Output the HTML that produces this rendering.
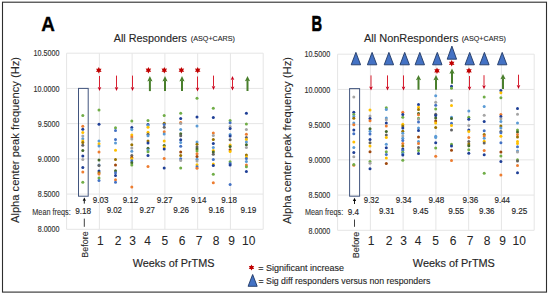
<!DOCTYPE html>
<html><head><meta charset="utf-8"><style>
html,body{margin:0;padding:0;background:#fff;}
svg{display:block;}
text{font-family:"Liberation Sans",sans-serif;}
</style></head><body>
<svg width="550" height="295" viewBox="0 0 550 295">
<rect x="0" y="0" width="550" height="295" fill="#fff"/>

<rect x="2.5" y="2.2" width="544.0" height="289.9" fill="none" stroke="#2E2E2E" stroke-width="1.1"/>
<line x1="66.6" y1="53.20" x2="263.2" y2="53.20" stroke="#E5E5E5" stroke-width="1"/>
<line x1="66.6" y1="88.42" x2="263.2" y2="88.42" stroke="#E5E5E5" stroke-width="1"/>
<line x1="66.6" y1="123.64" x2="263.2" y2="123.64" stroke="#E5E5E5" stroke-width="1"/>
<line x1="66.6" y1="158.86" x2="263.2" y2="158.86" stroke="#E5E5E5" stroke-width="1"/>
<line x1="66.6" y1="194.08" x2="263.2" y2="194.08" stroke="#E5E5E5" stroke-width="1"/>
<line x1="66.6" y1="229.30" x2="263.2" y2="229.30" stroke="#E5E5E5" stroke-width="1"/>
<line x1="66.60" y1="53.2" x2="66.60" y2="229.3" stroke="#E5E5E5" stroke-width="1"/>
<line x1="99.37" y1="53.2" x2="99.37" y2="229.3" stroke="#E5E5E5" stroke-width="1"/>
<line x1="132.13" y1="53.2" x2="132.13" y2="229.3" stroke="#E5E5E5" stroke-width="1"/>
<line x1="164.90" y1="53.2" x2="164.90" y2="229.3" stroke="#E5E5E5" stroke-width="1"/>
<line x1="197.67" y1="53.2" x2="197.67" y2="229.3" stroke="#E5E5E5" stroke-width="1"/>
<line x1="230.43" y1="53.2" x2="230.43" y2="229.3" stroke="#E5E5E5" stroke-width="1"/>
<line x1="263.20" y1="53.2" x2="263.20" y2="229.3" stroke="#E5E5E5" stroke-width="1"/>
<line x1="337.6" y1="54.20" x2="534.2" y2="54.20" stroke="#E5E5E5" stroke-width="1"/>
<line x1="337.6" y1="89.42" x2="534.2" y2="89.42" stroke="#E5E5E5" stroke-width="1"/>
<line x1="337.6" y1="124.64" x2="534.2" y2="124.64" stroke="#E5E5E5" stroke-width="1"/>
<line x1="337.6" y1="159.86" x2="534.2" y2="159.86" stroke="#E5E5E5" stroke-width="1"/>
<line x1="337.6" y1="195.08" x2="534.2" y2="195.08" stroke="#E5E5E5" stroke-width="1"/>
<line x1="337.6" y1="230.30" x2="534.2" y2="230.30" stroke="#E5E5E5" stroke-width="1"/>
<line x1="337.60" y1="54.2" x2="337.60" y2="230.3" stroke="#E5E5E5" stroke-width="1"/>
<line x1="370.37" y1="54.2" x2="370.37" y2="230.3" stroke="#E5E5E5" stroke-width="1"/>
<line x1="403.13" y1="54.2" x2="403.13" y2="230.3" stroke="#E5E5E5" stroke-width="1"/>
<line x1="435.90" y1="54.2" x2="435.90" y2="230.3" stroke="#E5E5E5" stroke-width="1"/>
<line x1="468.67" y1="54.2" x2="468.67" y2="230.3" stroke="#E5E5E5" stroke-width="1"/>
<line x1="501.43" y1="54.2" x2="501.43" y2="230.3" stroke="#E5E5E5" stroke-width="1"/>
<line x1="534.20" y1="54.2" x2="534.20" y2="230.3" stroke="#E5E5E5" stroke-width="1"/>
<rect x="78.5" y="88.4" width="9.7" height="107.8" fill="none" stroke="#42557E" stroke-width="1.0"/>
<rect x="349.6" y="88.6" width="10.0" height="107.6" fill="none" stroke="#42557E" stroke-width="1.0"/>
<circle cx="82.8" cy="115.6" r="1.5" fill="#70AD47"/>
<circle cx="82.8" cy="126.2" r="1.5" fill="#ED7D31"/>
<circle cx="82.8" cy="129.3" r="1.5" fill="#1F3F96"/>
<circle cx="82.8" cy="132.4" r="1.5" fill="#FFC000"/>
<circle cx="82.8" cy="136" r="1.5" fill="#A5A5A5"/>
<circle cx="82.8" cy="138.8" r="1.5" fill="#5B9BD5"/>
<circle cx="82.8" cy="141.1" r="1.5" fill="#FFC000"/>
<circle cx="82.8" cy="142.5" r="1.5" fill="#997300"/>
<circle cx="82.8" cy="145.2" r="1.5" fill="#636363"/>
<circle cx="82.8" cy="150.6" r="1.5" fill="#43682B"/>
<circle cx="82.8" cy="156" r="1.5" fill="#1F3F96"/>
<circle cx="82.8" cy="159.4" r="1.5" fill="#A5A5A5"/>
<circle cx="82.8" cy="167.6" r="1.5" fill="#1F3F96"/>
<circle cx="82.8" cy="172" r="1.5" fill="#ED7D31"/>
<circle cx="82.8" cy="182.2" r="1.5" fill="#70AD47"/>
<circle cx="99.0" cy="109.9" r="1.5" fill="#70AD47"/>
<circle cx="99.0" cy="124.2" r="1.5" fill="#1F3F96"/>
<circle cx="99.0" cy="141.1" r="1.5" fill="#5B9BD5"/>
<circle cx="99.0" cy="143.8" r="1.5" fill="#FFC000"/>
<circle cx="99.0" cy="145.9" r="1.5" fill="#5B9BD5"/>
<circle cx="99.0" cy="152" r="1.5" fill="#ED7D31"/>
<circle cx="99.0" cy="160.1" r="1.5" fill="#43682B"/>
<circle cx="99.0" cy="164.9" r="1.5" fill="#5B9BD5"/>
<circle cx="99.0" cy="165.5" r="1.5" fill="#636363"/>
<circle cx="99.0" cy="171" r="1.5" fill="#1F3F96"/>
<circle cx="99.0" cy="172.7" r="1.5" fill="#997300"/>
<circle cx="99.0" cy="174" r="1.5" fill="#ED7D31"/>
<circle cx="99.0" cy="178.1" r="1.5" fill="#70AD47"/>
<circle cx="99.0" cy="180.6" r="1.5" fill="#4472C4"/>
<circle cx="115.5" cy="127.8" r="1.5" fill="#70AD47"/>
<circle cx="115.5" cy="130.5" r="1.5" fill="#4472C4"/>
<circle cx="115.5" cy="139.6" r="1.5" fill="#4472C4"/>
<circle cx="115.5" cy="143.1" r="1.5" fill="#5B9BD5"/>
<circle cx="115.5" cy="150.2" r="1.5" fill="#FFC000"/>
<circle cx="115.5" cy="159.4" r="1.5" fill="#997300"/>
<circle cx="115.5" cy="165.1" r="1.5" fill="#9E480E"/>
<circle cx="115.5" cy="170.8" r="1.5" fill="#43682B"/>
<circle cx="115.5" cy="172.7" r="1.5" fill="#4472C4"/>
<circle cx="115.5" cy="175.4" r="1.5" fill="#1F3F96"/>
<circle cx="115.5" cy="179.8" r="1.5" fill="#ED7D31"/>
<circle cx="115.5" cy="182.2" r="1.5" fill="#4472C4"/>
<circle cx="131.8" cy="121" r="1.5" fill="#70AD47"/>
<circle cx="131.8" cy="127.5" r="1.5" fill="#1F3F96"/>
<circle cx="131.8" cy="129.5" r="1.5" fill="#5B9BD5"/>
<circle cx="131.8" cy="135" r="1.5" fill="#FFC000"/>
<circle cx="131.8" cy="137" r="1.5" fill="#ED7D31"/>
<circle cx="131.8" cy="139" r="1.5" fill="#A5A5A5"/>
<circle cx="131.8" cy="144.8" r="1.5" fill="#997300"/>
<circle cx="131.8" cy="147.9" r="1.5" fill="#A5A5A5"/>
<circle cx="131.8" cy="151.3" r="1.5" fill="#5B9BD5"/>
<circle cx="131.8" cy="155.6" r="1.5" fill="#636363"/>
<circle cx="131.8" cy="157.4" r="1.5" fill="#9E480E"/>
<circle cx="131.8" cy="158.7" r="1.5" fill="#FFC000"/>
<circle cx="131.8" cy="160.8" r="1.5" fill="#4472C4"/>
<circle cx="131.8" cy="162.8" r="1.5" fill="#43682B"/>
<circle cx="131.8" cy="164.9" r="1.5" fill="#70AD47"/>
<circle cx="131.8" cy="187" r="1.5" fill="#ED7D31"/>
<circle cx="148.0" cy="120.4" r="1.5" fill="#70AD47"/>
<circle cx="148.0" cy="124.6" r="1.5" fill="#1F3F96"/>
<circle cx="148.0" cy="125.5" r="1.5" fill="#5B9BD5"/>
<circle cx="148.0" cy="127.3" r="1.5" fill="#FFC000"/>
<circle cx="148.0" cy="132.3" r="1.5" fill="#FFC000"/>
<circle cx="148.0" cy="134.3" r="1.5" fill="#636363"/>
<circle cx="148.0" cy="135.7" r="1.5" fill="#5B9BD5"/>
<circle cx="148.0" cy="140.9" r="1.5" fill="#997300"/>
<circle cx="148.0" cy="142.9" r="1.5" fill="#1F3F96"/>
<circle cx="148.0" cy="148.3" r="1.5" fill="#43682B"/>
<circle cx="148.0" cy="150.1" r="1.5" fill="#5B9BD5"/>
<circle cx="148.0" cy="151.7" r="1.5" fill="#70AD47"/>
<circle cx="148.0" cy="155.5" r="1.5" fill="#1F3F96"/>
<circle cx="148.0" cy="166.5" r="1.5" fill="#ED7D31"/>
<circle cx="164.2" cy="115.6" r="1.5" fill="#70AD47"/>
<circle cx="164.2" cy="123.2" r="1.5" fill="#997300"/>
<circle cx="164.2" cy="124.6" r="1.5" fill="#4472C4"/>
<circle cx="164.2" cy="127.3" r="1.5" fill="#636363"/>
<circle cx="164.2" cy="131.8" r="1.5" fill="#ED7D31"/>
<circle cx="164.2" cy="134" r="1.5" fill="#5B9BD5"/>
<circle cx="164.2" cy="140.9" r="1.5" fill="#FFC000"/>
<circle cx="164.2" cy="145.6" r="1.5" fill="#43682B"/>
<circle cx="164.2" cy="147" r="1.5" fill="#FFC000"/>
<circle cx="164.2" cy="149" r="1.5" fill="#1F3F96"/>
<circle cx="164.2" cy="158.5" r="1.5" fill="#ED7D31"/>
<circle cx="164.2" cy="168" r="1.5" fill="#1F3F96"/>
<circle cx="180.7" cy="113.3" r="1.5" fill="#70AD47"/>
<circle cx="180.7" cy="118.5" r="1.5" fill="#1F3F96"/>
<circle cx="180.7" cy="122.5" r="1.5" fill="#ED7D31"/>
<circle cx="180.7" cy="123.5" r="1.5" fill="#A5A5A5"/>
<circle cx="180.7" cy="129.4" r="1.5" fill="#5B9BD5"/>
<circle cx="180.7" cy="133.8" r="1.5" fill="#43682B"/>
<circle cx="180.7" cy="135.7" r="1.5" fill="#636363"/>
<circle cx="180.7" cy="139.8" r="1.5" fill="#1F3F96"/>
<circle cx="180.7" cy="142.5" r="1.5" fill="#5B9BD5"/>
<circle cx="180.7" cy="146.3" r="1.5" fill="#4472C4"/>
<circle cx="180.7" cy="152" r="1.5" fill="#9E480E"/>
<circle cx="180.7" cy="155.5" r="1.5" fill="#997300"/>
<circle cx="180.7" cy="158.8" r="1.5" fill="#4472C4"/>
<circle cx="180.7" cy="160.5" r="1.5" fill="#A5A5A5"/>
<circle cx="180.7" cy="168" r="1.5" fill="#70AD47"/>
<circle cx="197.0" cy="98.2" r="1.5" fill="#70AD47"/>
<circle cx="197.0" cy="117.1" r="1.5" fill="#1F3F96"/>
<circle cx="197.0" cy="125.9" r="1.5" fill="#5B9BD5"/>
<circle cx="197.0" cy="141.9" r="1.5" fill="#5B9BD5"/>
<circle cx="197.0" cy="144.2" r="1.5" fill="#997300"/>
<circle cx="197.0" cy="147" r="1.5" fill="#636363"/>
<circle cx="197.0" cy="149" r="1.5" fill="#43682B"/>
<circle cx="197.0" cy="151" r="1.5" fill="#70AD47"/>
<circle cx="197.0" cy="153.7" r="1.5" fill="#ED7D31"/>
<circle cx="197.0" cy="156.5" r="1.5" fill="#9E480E"/>
<circle cx="197.0" cy="159.2" r="1.5" fill="#5B9BD5"/>
<circle cx="197.0" cy="160.9" r="1.5" fill="#A5A5A5"/>
<circle cx="197.0" cy="164.8" r="1.5" fill="#FFC000"/>
<circle cx="197.0" cy="166.8" r="1.5" fill="#4472C4"/>
<circle cx="197.0" cy="168.3" r="1.5" fill="#ED7D31"/>
<circle cx="213.3" cy="108.3" r="1.5" fill="#70AD47"/>
<circle cx="213.3" cy="117.4" r="1.5" fill="#1F3F96"/>
<circle cx="213.3" cy="132.9" r="1.5" fill="#ED7D31"/>
<circle cx="213.3" cy="135.4" r="1.5" fill="#A5A5A5"/>
<circle cx="213.3" cy="139.5" r="1.5" fill="#997300"/>
<circle cx="213.3" cy="143.6" r="1.5" fill="#1F3F96"/>
<circle cx="213.3" cy="147.6" r="1.5" fill="#5B9BD5"/>
<circle cx="213.3" cy="150.4" r="1.5" fill="#FFC000"/>
<circle cx="213.3" cy="152" r="1.5" fill="#43682B"/>
<circle cx="213.3" cy="154.2" r="1.5" fill="#636363"/>
<circle cx="213.3" cy="159.6" r="1.5" fill="#4472C4"/>
<circle cx="213.3" cy="164.1" r="1.5" fill="#FFC000"/>
<circle cx="213.3" cy="165.4" r="1.5" fill="#1F3F96"/>
<circle cx="213.3" cy="174.2" r="1.5" fill="#70AD47"/>
<circle cx="213.3" cy="182.8" r="1.5" fill="#ED7D31"/>
<circle cx="230.1" cy="120.5" r="1.5" fill="#70AD47"/>
<circle cx="230.1" cy="122.8" r="1.5" fill="#4472C4"/>
<circle cx="230.1" cy="126.5" r="1.5" fill="#A5A5A5"/>
<circle cx="230.1" cy="128.6" r="1.5" fill="#1F3F96"/>
<circle cx="230.1" cy="134.6" r="1.5" fill="#5B9BD5"/>
<circle cx="230.1" cy="136.1" r="1.5" fill="#1F3F96"/>
<circle cx="230.1" cy="139.8" r="1.5" fill="#636363"/>
<circle cx="230.1" cy="144.9" r="1.5" fill="#FFC000"/>
<circle cx="230.1" cy="146.6" r="1.5" fill="#43682B"/>
<circle cx="230.1" cy="149.7" r="1.5" fill="#9E480E"/>
<circle cx="230.1" cy="151.4" r="1.5" fill="#FFC000"/>
<circle cx="230.1" cy="161.7" r="1.5" fill="#70AD47"/>
<circle cx="230.1" cy="163.5" r="1.5" fill="#4472C4"/>
<circle cx="230.1" cy="165" r="1.5" fill="#1F3F96"/>
<circle cx="230.1" cy="184.4" r="1.5" fill="#4472C4"/>
<circle cx="246.4" cy="113.3" r="1.5" fill="#1F3F96"/>
<circle cx="246.4" cy="123.9" r="1.5" fill="#70AD47"/>
<circle cx="246.4" cy="129.6" r="1.5" fill="#A5A5A5"/>
<circle cx="246.4" cy="134.3" r="1.5" fill="#ED7D31"/>
<circle cx="246.4" cy="137.5" r="1.5" fill="#636363"/>
<circle cx="246.4" cy="139.5" r="1.5" fill="#FFC000"/>
<circle cx="246.4" cy="141.9" r="1.5" fill="#5B9BD5"/>
<circle cx="246.4" cy="144.7" r="1.5" fill="#43682B"/>
<circle cx="246.4" cy="147.4" r="1.5" fill="#A5A5A5"/>
<circle cx="246.4" cy="155.1" r="1.5" fill="#997300"/>
<circle cx="246.4" cy="156.9" r="1.5" fill="#FFC000"/>
<circle cx="246.4" cy="158.5" r="1.5" fill="#4472C4"/>
<circle cx="246.4" cy="161.5" r="1.5" fill="#5B9BD5"/>
<circle cx="246.4" cy="165.1" r="1.5" fill="#ED7D31"/>
<circle cx="246.4" cy="166.8" r="1.5" fill="#70AD47"/>
<circle cx="246.4" cy="171.5" r="1.5" fill="#1F3F96"/>
<circle cx="353.8" cy="97" r="1.5" fill="#A5A5A5"/>
<circle cx="353.8" cy="112.3" r="1.5" fill="#1F3F96"/>
<circle cx="353.8" cy="114.6" r="1.5" fill="#70AD47"/>
<circle cx="353.8" cy="116.6" r="1.5" fill="#5B9BD5"/>
<circle cx="353.8" cy="118.2" r="1.5" fill="#997300"/>
<circle cx="353.8" cy="122.9" r="1.5" fill="#5B9BD5"/>
<circle cx="353.8" cy="124.8" r="1.5" fill="#ED7D31"/>
<circle cx="353.8" cy="129.9" r="1.5" fill="#1F3F96"/>
<circle cx="353.8" cy="133.7" r="1.5" fill="#4472C4"/>
<circle cx="353.8" cy="142.1" r="1.5" fill="#FFC000"/>
<circle cx="353.8" cy="147.6" r="1.5" fill="#5B9BD5"/>
<circle cx="353.8" cy="152.4" r="1.5" fill="#1F3F96"/>
<circle cx="353.8" cy="156.8" r="1.5" fill="#A5A5A5"/>
<circle cx="353.8" cy="165.2" r="1.5" fill="#ED7D31"/>
<circle cx="353.8" cy="164.5" r="1.5" fill="#70AD47"/>
<circle cx="370.0" cy="110.1" r="1.5" fill="#FFC000"/>
<circle cx="370.0" cy="116" r="1.5" fill="#A5A5A5"/>
<circle cx="370.0" cy="118.5" r="1.5" fill="#1F3F96"/>
<circle cx="370.0" cy="120.7" r="1.5" fill="#ED7D31"/>
<circle cx="370.0" cy="128.8" r="1.5" fill="#43682B"/>
<circle cx="370.0" cy="131.3" r="1.5" fill="#5B9BD5"/>
<circle cx="370.0" cy="134" r="1.5" fill="#4472C4"/>
<circle cx="370.0" cy="139.4" r="1.5" fill="#1F3F96"/>
<circle cx="370.0" cy="142.8" r="1.5" fill="#636363"/>
<circle cx="370.0" cy="145.9" r="1.5" fill="#FFC000"/>
<circle cx="370.0" cy="151.8" r="1.5" fill="#9E480E"/>
<circle cx="370.0" cy="161.5" r="1.5" fill="#70AD47"/>
<circle cx="370.0" cy="163.3" r="1.5" fill="#A5A5A5"/>
<circle cx="370.0" cy="168.7" r="1.5" fill="#1F3F96"/>
<circle cx="386.3" cy="107.8" r="1.5" fill="#70AD47"/>
<circle cx="386.3" cy="109.6" r="1.5" fill="#5B9BD5"/>
<circle cx="386.3" cy="118" r="1.5" fill="#5B9BD5"/>
<circle cx="386.3" cy="119.7" r="1.5" fill="#A5A5A5"/>
<circle cx="386.3" cy="123.1" r="1.5" fill="#1F3F96"/>
<circle cx="386.3" cy="125.9" r="1.5" fill="#ED7D31"/>
<circle cx="386.3" cy="131.6" r="1.5" fill="#43682B"/>
<circle cx="386.3" cy="135.1" r="1.5" fill="#636363"/>
<circle cx="386.3" cy="137.4" r="1.5" fill="#FFC000"/>
<circle cx="386.3" cy="144.2" r="1.5" fill="#5B9BD5"/>
<circle cx="386.3" cy="147.8" r="1.5" fill="#1F3F96"/>
<circle cx="386.3" cy="151.8" r="1.5" fill="#70AD47"/>
<circle cx="386.3" cy="154.5" r="1.5" fill="#4472C4"/>
<circle cx="386.3" cy="158.1" r="1.5" fill="#FFC000"/>
<circle cx="386.3" cy="163.6" r="1.5" fill="#9E480E"/>
<circle cx="402.8" cy="112.3" r="1.5" fill="#ED7D31"/>
<circle cx="402.8" cy="114.6" r="1.5" fill="#1F3F96"/>
<circle cx="402.8" cy="117.3" r="1.5" fill="#70AD47"/>
<circle cx="402.8" cy="124.2" r="1.5" fill="#FFC000"/>
<circle cx="402.8" cy="125.9" r="1.5" fill="#997300"/>
<circle cx="402.8" cy="127.9" r="1.5" fill="#1F3F96"/>
<circle cx="402.8" cy="131.3" r="1.5" fill="#997300"/>
<circle cx="402.8" cy="133.3" r="1.5" fill="#5B9BD5"/>
<circle cx="402.8" cy="136" r="1.5" fill="#A5A5A5"/>
<circle cx="402.8" cy="138.3" r="1.5" fill="#5B9BD5"/>
<circle cx="402.8" cy="140.5" r="1.5" fill="#4472C4"/>
<circle cx="402.8" cy="143.5" r="1.5" fill="#ED7D31"/>
<circle cx="402.8" cy="145.9" r="1.5" fill="#997300"/>
<circle cx="402.8" cy="148.9" r="1.5" fill="#1F3F96"/>
<circle cx="402.8" cy="150.5" r="1.5" fill="#4472C4"/>
<circle cx="402.8" cy="152.3" r="1.5" fill="#70AD47"/>
<circle cx="402.8" cy="153.8" r="1.5" fill="#5B9BD5"/>
<circle cx="402.8" cy="155" r="1.5" fill="#1F3F96"/>
<circle cx="402.8" cy="160.2" r="1.5" fill="#70AD47"/>
<circle cx="418.5" cy="104.6" r="1.5" fill="#1F3F96"/>
<circle cx="418.5" cy="107.2" r="1.5" fill="#FFC000"/>
<circle cx="418.5" cy="109.5" r="1.5" fill="#997300"/>
<circle cx="418.5" cy="113.4" r="1.5" fill="#43682B"/>
<circle cx="418.5" cy="114.8" r="1.5" fill="#ED7D31"/>
<circle cx="418.5" cy="118.3" r="1.5" fill="#70AD47"/>
<circle cx="418.5" cy="119.2" r="1.5" fill="#A5A5A5"/>
<circle cx="418.5" cy="122" r="1.5" fill="#4472C4"/>
<circle cx="418.5" cy="128.1" r="1.5" fill="#5B9BD5"/>
<circle cx="418.5" cy="130.5" r="1.5" fill="#1F3F96"/>
<circle cx="418.5" cy="136.9" r="1.5" fill="#9E480E"/>
<circle cx="418.5" cy="141.5" r="1.5" fill="#5B9BD5"/>
<circle cx="418.5" cy="143.5" r="1.5" fill="#ED7D31"/>
<circle cx="418.5" cy="147.5" r="1.5" fill="#636363"/>
<circle cx="418.5" cy="150.6" r="1.5" fill="#70AD47"/>
<circle cx="418.5" cy="153.6" r="1.5" fill="#1F3F96"/>
<circle cx="435.7" cy="95.8" r="1.5" fill="#5B9BD5"/>
<circle cx="435.7" cy="102.3" r="1.5" fill="#A5A5A5"/>
<circle cx="435.7" cy="105.3" r="1.5" fill="#4472C4"/>
<circle cx="435.7" cy="109" r="1.5" fill="#70AD47"/>
<circle cx="435.7" cy="114.2" r="1.5" fill="#636363"/>
<circle cx="435.7" cy="115.6" r="1.5" fill="#1F3F96"/>
<circle cx="435.7" cy="117.9" r="1.5" fill="#43682B"/>
<circle cx="435.7" cy="121" r="1.5" fill="#9E480E"/>
<circle cx="435.7" cy="122.9" r="1.5" fill="#FFC000"/>
<circle cx="435.7" cy="127.4" r="1.5" fill="#997300"/>
<circle cx="435.7" cy="136.2" r="1.5" fill="#5B9BD5"/>
<circle cx="435.7" cy="137.6" r="1.5" fill="#5B9BD5"/>
<circle cx="435.7" cy="142.8" r="1.5" fill="#1F3F96"/>
<circle cx="435.7" cy="148.1" r="1.5" fill="#70AD47"/>
<circle cx="435.7" cy="156.3" r="1.5" fill="#ED7D31"/>
<circle cx="451.5" cy="86.3" r="1.5" fill="#1F3F96"/>
<circle cx="451.5" cy="88.3" r="1.5" fill="#70AD47"/>
<circle cx="451.5" cy="100.5" r="1.5" fill="#A5A5A5"/>
<circle cx="451.5" cy="105.6" r="1.5" fill="#FFC000"/>
<circle cx="451.5" cy="117.2" r="1.5" fill="#5B9BD5"/>
<circle cx="451.5" cy="118.6" r="1.5" fill="#43682B"/>
<circle cx="451.5" cy="123.3" r="1.5" fill="#4472C4"/>
<circle cx="451.5" cy="125.4" r="1.5" fill="#FFC000"/>
<circle cx="451.5" cy="130.1" r="1.5" fill="#636363"/>
<circle cx="451.5" cy="144.3" r="1.5" fill="#70AD47"/>
<circle cx="451.5" cy="146.1" r="1.5" fill="#1F3F96"/>
<circle cx="451.5" cy="150.2" r="1.5" fill="#9E480E"/>
<circle cx="451.5" cy="160.4" r="1.5" fill="#ED7D31"/>
<circle cx="468.8" cy="111.1" r="1.5" fill="#5B9BD5"/>
<circle cx="468.8" cy="117.2" r="1.5" fill="#70AD47"/>
<circle cx="468.8" cy="119.2" r="1.5" fill="#1F3F96"/>
<circle cx="468.8" cy="125.4" r="1.5" fill="#A5A5A5"/>
<circle cx="468.8" cy="130.1" r="1.5" fill="#1F3F96"/>
<circle cx="468.8" cy="131.5" r="1.5" fill="#FFC000"/>
<circle cx="468.8" cy="137.6" r="1.5" fill="#ED7D31"/>
<circle cx="468.8" cy="141.6" r="1.5" fill="#636363"/>
<circle cx="468.8" cy="143.9" r="1.5" fill="#997300"/>
<circle cx="468.8" cy="145.7" r="1.5" fill="#43682B"/>
<circle cx="468.8" cy="149.8" r="1.5" fill="#70AD47"/>
<circle cx="468.8" cy="153.2" r="1.5" fill="#1F3F96"/>
<circle cx="484.2" cy="97.1" r="1.5" fill="#70AD47"/>
<circle cx="484.2" cy="106.4" r="1.5" fill="#5B9BD5"/>
<circle cx="484.2" cy="115.2" r="1.5" fill="#A5A5A5"/>
<circle cx="484.2" cy="121.6" r="1.5" fill="#1F3F96"/>
<circle cx="484.2" cy="130.8" r="1.5" fill="#4472C4"/>
<circle cx="484.2" cy="134.6" r="1.5" fill="#997300"/>
<circle cx="484.2" cy="135.9" r="1.5" fill="#ED7D31"/>
<circle cx="484.2" cy="138.2" r="1.5" fill="#5B9BD5"/>
<circle cx="484.2" cy="141.2" r="1.5" fill="#FFC000"/>
<circle cx="484.2" cy="143" r="1.5" fill="#636363"/>
<circle cx="484.2" cy="150.6" r="1.5" fill="#ED7D31"/>
<circle cx="484.2" cy="154.7" r="1.5" fill="#1F3F96"/>
<circle cx="484.2" cy="173.2" r="1.5" fill="#70AD47"/>
<circle cx="500.9" cy="90.4" r="1.5" fill="#1F3F96"/>
<circle cx="500.9" cy="92.8" r="1.5" fill="#FFC000"/>
<circle cx="500.9" cy="97.8" r="1.5" fill="#70AD47"/>
<circle cx="500.9" cy="114.5" r="1.5" fill="#ED7D31"/>
<circle cx="500.9" cy="116.5" r="1.5" fill="#1F3F96"/>
<circle cx="500.9" cy="118.8" r="1.5" fill="#A5A5A5"/>
<circle cx="500.9" cy="121.6" r="1.5" fill="#5B9BD5"/>
<circle cx="500.9" cy="126" r="1.5" fill="#997300"/>
<circle cx="500.9" cy="128.1" r="1.5" fill="#5B9BD5"/>
<circle cx="500.9" cy="131.5" r="1.5" fill="#636363"/>
<circle cx="500.9" cy="132.8" r="1.5" fill="#4472C4"/>
<circle cx="500.9" cy="136.2" r="1.5" fill="#FFC000"/>
<circle cx="500.9" cy="142.8" r="1.5" fill="#4472C4"/>
<circle cx="500.9" cy="151.9" r="1.5" fill="#9E480E"/>
<circle cx="500.9" cy="156" r="1.5" fill="#70AD47"/>
<circle cx="500.9" cy="161.4" r="1.5" fill="#1F3F96"/>
<circle cx="500.9" cy="175" r="1.5" fill="#ED7D31"/>
<circle cx="517.5" cy="108.4" r="1.5" fill="#1F3F96"/>
<circle cx="517.5" cy="114.2" r="1.5" fill="#A5A5A5"/>
<circle cx="517.5" cy="122.9" r="1.5" fill="#5B9BD5"/>
<circle cx="517.5" cy="130.1" r="1.5" fill="#70AD47"/>
<circle cx="517.5" cy="132.1" r="1.5" fill="#43682B"/>
<circle cx="517.5" cy="134.6" r="1.5" fill="#ED7D31"/>
<circle cx="517.5" cy="136.9" r="1.5" fill="#997300"/>
<circle cx="517.5" cy="141.4" r="1.5" fill="#FFC000"/>
<circle cx="517.5" cy="143.5" r="1.5" fill="#FFC000"/>
<circle cx="517.5" cy="146.8" r="1.5" fill="#4472C4"/>
<circle cx="517.5" cy="150.9" r="1.5" fill="#5B9BD5"/>
<circle cx="517.5" cy="152" r="1.5" fill="#A5A5A5"/>
<circle cx="517.5" cy="159.7" r="1.5" fill="#70AD47"/>
<circle cx="517.5" cy="161" r="1.5" fill="#636363"/>
<circle cx="517.5" cy="165.5" r="1.5" fill="#ED7D31"/>
<circle cx="517.5" cy="172.8" r="1.5" fill="#1F3F96"/>
<polygon points="98.80,67.10 99.67,68.78 101.57,68.70 100.55,70.30 101.57,71.90 99.67,71.82 98.80,73.50 97.92,71.82 96.03,71.90 97.05,70.30 96.03,68.70 97.92,68.78" fill="#C00000"/>
<line x1="99.5" y1="76" x2="99.5" y2="87.6" stroke="#D92030" stroke-width="1.0"/>
<path d="M97.7 87.1L99.5 87.8L101.3 87.1L99.5 91Z" fill="#C8001A"/>
<line x1="116.5" y1="75.6" x2="116.5" y2="87.6" stroke="#D92030" stroke-width="1.0"/>
<path d="M114.7 87.1L116.5 87.8L118.3 87.1L116.5 91Z" fill="#C8001A"/>
<line x1="132.5" y1="75.6" x2="132.5" y2="87.6" stroke="#D92030" stroke-width="1.0"/>
<path d="M130.7 87.1L132.5 87.8L134.3 87.1L132.5 91Z" fill="#C8001A"/>
<polygon points="148.40,67.00 149.28,68.68 151.17,68.60 150.15,70.20 151.17,71.80 149.28,71.72 148.40,73.40 147.53,71.72 145.63,71.80 146.65,70.20 145.63,68.60 147.53,68.68" fill="#C00000"/>
<line x1="149.9" y1="80.3" x2="149.9" y2="91.1" stroke="#497F2C" stroke-width="2.0"/>
<path d="M147.3 81.39999999999999L149.9 80.5L152.5 81.39999999999999L149.9 76.1Z" fill="#497F2C"/>
<polygon points="164.30,67.00 165.18,68.68 167.07,68.60 166.05,70.20 167.07,71.80 165.18,71.72 164.30,73.40 163.43,71.72 161.53,71.80 162.55,70.20 161.53,68.60 163.43,68.68" fill="#C00000"/>
<line x1="165.0" y1="80.3" x2="165.0" y2="91.1" stroke="#497F2C" stroke-width="2.0"/>
<path d="M162.4 81.39999999999999L165.0 80.5L167.6 81.39999999999999L165.0 76.1Z" fill="#497F2C"/>
<polygon points="181.40,67.00 182.28,68.68 184.17,68.60 183.15,70.20 184.17,71.80 182.28,71.72 181.40,73.40 180.53,71.72 178.63,71.80 179.65,70.20 178.63,68.60 180.53,68.68" fill="#C00000"/>
<line x1="182.0" y1="80.3" x2="182.0" y2="91.1" stroke="#497F2C" stroke-width="2.0"/>
<path d="M179.4 81.39999999999999L182.0 80.5L184.6 81.39999999999999L182.0 76.1Z" fill="#497F2C"/>
<polygon points="197.70,67.00 198.57,68.68 200.47,68.60 199.45,70.20 200.47,71.80 198.57,71.72 197.70,73.40 196.82,71.72 194.93,71.80 195.95,70.20 194.93,68.60 196.82,68.68" fill="#C00000"/>
<line x1="197.5" y1="76.5" x2="197.5" y2="88.0" stroke="#D92030" stroke-width="1.0"/>
<path d="M195.7 87.5L197.5 88.2L199.3 87.5L197.5 91.4Z" fill="#C8001A"/>
<line x1="213.5" y1="75.6" x2="213.5" y2="86.6" stroke="#D92030" stroke-width="1.0"/>
<path d="M211.7 86.1L213.5 86.8L215.3 86.1L213.5 90Z" fill="#C8001A"/>
<line x1="232.5" y1="79.4" x2="232.5" y2="87.1" stroke="#D92030" stroke-width="1.0"/>
<path d="M230.7 86.6L232.5 87.3L234.3 86.6L232.5 90.5Z" fill="#C8001A"/>
<path d="M230.7 79.9L232.5 79.2L234.3 79.9L232.5 76Z" fill="#C8001A"/>
<line x1="247.5" y1="80.2" x2="247.5" y2="91" stroke="#497F2C" stroke-width="2.0"/>
<path d="M244.9 81.3L247.5 80.4L250.1 81.3L247.5 76Z" fill="#497F2C"/>
<path d="M351.2 64.8L360.59999999999997 64.8L355.9 52.4Z" fill="#4472C4" stroke="#1F3864" stroke-width="0.9" stroke-linejoin="miter"/>
<path d="M367.40000000000003 64.8L376.8 64.8L372.1 52.4Z" fill="#4472C4" stroke="#1F3864" stroke-width="0.9" stroke-linejoin="miter"/>
<path d="M384.2 64.8L393.59999999999997 64.8L388.9 52.4Z" fill="#4472C4" stroke="#1F3864" stroke-width="0.9" stroke-linejoin="miter"/>
<path d="M400.0 64.8L409.4 64.8L404.7 52.4Z" fill="#4472C4" stroke="#1F3864" stroke-width="0.9" stroke-linejoin="miter"/>
<path d="M415.1 64.8L424.5 64.8L419.8 52.4Z" fill="#4472C4" stroke="#1F3864" stroke-width="0.9" stroke-linejoin="miter"/>
<path d="M432.6 64.8L442.0 64.8L437.3 52.4Z" fill="#4472C4" stroke="#1F3864" stroke-width="0.9" stroke-linejoin="miter"/>
<path d="M465.0 64.8L474.4 64.8L469.7 52.4Z" fill="#4472C4" stroke="#1F3864" stroke-width="0.9" stroke-linejoin="miter"/>
<path d="M479.7 64.8L489.09999999999997 64.8L484.4 52.4Z" fill="#4472C4" stroke="#1F3864" stroke-width="0.9" stroke-linejoin="miter"/>
<path d="M497.5 64.8L506.9 64.8L502.2 52.4Z" fill="#4472C4" stroke="#1F3864" stroke-width="0.9" stroke-linejoin="miter"/>
<path d="M447.2 59.2L456.59999999999997 59.2L451.9 46.1Z" fill="#4472C4" stroke="#1F3864" stroke-width="0.9" stroke-linejoin="miter"/>
<line x1="371.0" y1="75.4" x2="371.0" y2="87.0" stroke="#D92030" stroke-width="1.0"/>
<path d="M369.2 86.5L371.0 87.2L372.8 86.5L371.0 90.4Z" fill="#C8001A"/>
<line x1="387.5" y1="75.4" x2="387.5" y2="87.0" stroke="#D92030" stroke-width="1.0"/>
<path d="M385.7 86.5L387.5 87.2L389.3 86.5L387.5 90.4Z" fill="#C8001A"/>
<line x1="403.5" y1="75.4" x2="403.5" y2="87.0" stroke="#D92030" stroke-width="1.0"/>
<path d="M401.7 86.5L403.5 87.2L405.3 86.5L403.5 90.4Z" fill="#C8001A"/>
<line x1="418.5" y1="79.10000000000001" x2="418.5" y2="89.7" stroke="#497F2C" stroke-width="2.0"/>
<path d="M415.9 80.2L418.5 79.30000000000001L421.1 80.2L418.5 74.9Z" fill="#497F2C"/>
<line x1="436.0" y1="79.2" x2="436.0" y2="89.8" stroke="#497F2C" stroke-width="2.0"/>
<path d="M433.4 80.3L436.0 79.4L438.6 80.3L436.0 75.0Z" fill="#497F2C"/>
<polygon points="437.00,67.60 437.88,69.28 439.77,69.20 438.75,70.80 439.77,72.40 437.88,72.32 437.00,74.00 436.12,72.32 434.23,72.40 435.25,70.80 434.23,69.20 436.12,69.28" fill="#C00000"/>
<line x1="452.0" y1="72.7" x2="452.0" y2="83.7" stroke="#497F2C" stroke-width="2.0"/>
<path d="M449.4 73.8L452.0 72.9L454.6 73.8L452.0 68.5Z" fill="#497F2C"/>
<polygon points="451.70,60.10 452.57,61.78 454.47,61.70 453.45,63.30 454.47,64.90 452.57,64.82 451.70,66.50 450.82,64.82 448.93,64.90 449.95,63.30 448.93,61.70 450.82,61.78" fill="#C00000"/>
<line x1="469.5" y1="76.0" x2="469.5" y2="87.0" stroke="#D92030" stroke-width="1.0"/>
<path d="M467.7 86.5L469.5 87.2L471.3 86.5L469.5 90.4Z" fill="#C8001A"/>
<polygon points="469.00,67.60 469.88,69.28 471.77,69.20 470.75,70.80 471.77,72.40 469.88,72.32 469.00,74.00 468.12,72.32 466.23,72.40 467.25,70.80 466.23,69.20 468.12,69.28" fill="#C00000"/>
<line x1="484.0" y1="75.2" x2="484.0" y2="85.8" stroke="#D92030" stroke-width="1.0"/>
<path d="M482.2 85.3L484.0 86.0L485.8 85.3L484.0 89.2Z" fill="#C8001A"/>
<line x1="503.0" y1="78.2" x2="503.0" y2="89.0" stroke="#497F2C" stroke-width="2.0"/>
<path d="M500.4 79.3L503.0 78.4L505.6 79.3L503.0 74.0Z" fill="#497F2C"/>
<line x1="518.5" y1="74.7" x2="518.5" y2="85.6" stroke="#D92030" stroke-width="1.0"/>
<path d="M516.7 85.1L518.5 85.8L520.3 85.1L518.5 89.0Z" fill="#C8001A"/>
<line x1="84.3" y1="200.6" x2="84.3" y2="203.6" stroke="#000" stroke-width="0.9"/>
<path d="M82.7 200.79999999999998L85.89999999999999 200.79999999999998L84.3 197.6Z" fill="#000"/>
<line x1="84.3" y1="218.6" x2="84.3" y2="226.8" stroke="#404040" stroke-width="1"/>
<line x1="354.5" y1="200.8" x2="354.5" y2="204.0" stroke="#000" stroke-width="0.9"/>
<path d="M352.9 201.0L356.1 201.0L354.5 197.8Z" fill="#000"/>
<line x1="354.5" y1="219.5" x2="354.5" y2="226.8" stroke="#404040" stroke-width="1"/>
<text x="41.2" y="30.6" font-size="21" fill="#000" text-anchor="start" font-weight="bold" textLength="13.6" lengthAdjust="spacingAndGlyphs"  stroke="#000" stroke-width="0.35">A</text>
<text x="311.6" y="30.5" font-size="21.2" fill="#000" text-anchor="start" font-weight="bold" textLength="10.6" lengthAdjust="spacingAndGlyphs"  stroke="#000" stroke-width="0.6">B</text>
<text x="113.7" y="42.0" font-size="11" fill="#262626" text-anchor="start" font-weight="normal" textLength="73.3" lengthAdjust="spacingAndGlyphs"  stroke="#262626" stroke-width="0.12">All Responders</text>
<text x="190.8" y="41.2" font-size="7.6" fill="#262626" text-anchor="start" font-weight="normal" textLength="44.2" lengthAdjust="spacingAndGlyphs"  stroke="#262626" stroke-width="0.1">(ASQ+CARS)</text>
<text x="364.0" y="42.1" font-size="11" fill="#262626" text-anchor="start" font-weight="normal" textLength="94.4" lengthAdjust="spacingAndGlyphs"  stroke="#262626" stroke-width="0.12">All NonResponders</text>
<text x="461.7" y="41.3" font-size="7.6" fill="#262626" text-anchor="start" font-weight="normal" textLength="44.2" lengthAdjust="spacingAndGlyphs"  stroke="#262626" stroke-width="0.1">(ASQ+CARS)</text>
<text x="33.6" y="56.300000000000004" font-size="8.6" fill="#333" text-anchor="start" font-weight="normal" textLength="25.9" lengthAdjust="spacingAndGlyphs"  stroke="#333" stroke-width="0.15">10.5000</text>
<text x="304.40000000000003" y="57.4" font-size="8.6" fill="#333" text-anchor="start" font-weight="normal" textLength="25.9" lengthAdjust="spacingAndGlyphs"  stroke="#333" stroke-width="0.15">10.5000</text>
<text x="33.6" y="91.52" font-size="8.6" fill="#333" text-anchor="start" font-weight="normal" textLength="25.9" lengthAdjust="spacingAndGlyphs"  stroke="#333" stroke-width="0.15">10.0000</text>
<text x="304.40000000000003" y="92.61999999999999" font-size="8.6" fill="#333" text-anchor="start" font-weight="normal" textLength="25.9" lengthAdjust="spacingAndGlyphs"  stroke="#333" stroke-width="0.15">10.0000</text>
<text x="37.7" y="126.74" font-size="8.6" fill="#333" text-anchor="start" font-weight="normal" textLength="21.8" lengthAdjust="spacingAndGlyphs"  stroke="#333" stroke-width="0.15">9.5000</text>
<text x="308.5" y="127.83999999999999" font-size="8.6" fill="#333" text-anchor="start" font-weight="normal" textLength="21.8" lengthAdjust="spacingAndGlyphs"  stroke="#333" stroke-width="0.15">9.5000</text>
<text x="37.7" y="161.96" font-size="8.6" fill="#333" text-anchor="start" font-weight="normal" textLength="21.8" lengthAdjust="spacingAndGlyphs"  stroke="#333" stroke-width="0.15">9.0000</text>
<text x="308.5" y="163.05999999999997" font-size="8.6" fill="#333" text-anchor="start" font-weight="normal" textLength="21.8" lengthAdjust="spacingAndGlyphs"  stroke="#333" stroke-width="0.15">9.0000</text>
<text x="37.7" y="197.17999999999998" font-size="8.6" fill="#333" text-anchor="start" font-weight="normal" textLength="21.8" lengthAdjust="spacingAndGlyphs"  stroke="#333" stroke-width="0.15">8.5000</text>
<text x="308.5" y="198.28" font-size="8.6" fill="#333" text-anchor="start" font-weight="normal" textLength="21.8" lengthAdjust="spacingAndGlyphs"  stroke="#333" stroke-width="0.15">8.5000</text>
<text x="37.7" y="232.4" font-size="8.6" fill="#333" text-anchor="start" font-weight="normal" textLength="21.8" lengthAdjust="spacingAndGlyphs"  stroke="#333" stroke-width="0.15">8.0000</text>
<text x="308.5" y="233.49999999999997" font-size="8.6" fill="#333" text-anchor="start" font-weight="normal" textLength="21.8" lengthAdjust="spacingAndGlyphs"  stroke="#333" stroke-width="0.15">8.0000</text>
<text transform="translate(19.2,223) rotate(-90)" font-size="11" fill="#262626" stroke="#262626" stroke-width="0.1" textLength="166" lengthAdjust="spacingAndGlyphs">Alpha center peak frequency (Hz)</text>
<text transform="translate(291.2,224) rotate(-90)" font-size="11" fill="#262626" stroke="#262626" stroke-width="0.1" textLength="167" lengthAdjust="spacingAndGlyphs">Alpha center peak frequency (Hz)</text>
<text x="100.4" y="244.8" font-size="12" fill="#262626" text-anchor="middle" font-weight="normal"  stroke="#262626" stroke-width="0.05">1</text>
<text x="118.2" y="244.8" font-size="12" fill="#262626" text-anchor="middle" font-weight="normal"  stroke="#262626" stroke-width="0.05">2</text>
<text x="132.7" y="244.8" font-size="12" fill="#262626" text-anchor="middle" font-weight="normal"  stroke="#262626" stroke-width="0.05">3</text>
<text x="147.5" y="244.8" font-size="12" fill="#262626" text-anchor="middle" font-weight="normal"  stroke="#262626" stroke-width="0.05">4</text>
<text x="164.8" y="244.8" font-size="12" fill="#262626" text-anchor="middle" font-weight="normal"  stroke="#262626" stroke-width="0.05">5</text>
<text x="182.0" y="244.8" font-size="12" fill="#262626" text-anchor="middle" font-weight="normal"  stroke="#262626" stroke-width="0.05">6</text>
<text x="199.0" y="244.8" font-size="12" fill="#262626" text-anchor="middle" font-weight="normal"  stroke="#262626" stroke-width="0.05">7</text>
<text x="216.0" y="244.8" font-size="12" fill="#262626" text-anchor="middle" font-weight="normal"  stroke="#262626" stroke-width="0.05">8</text>
<text x="231.5" y="244.8" font-size="12" fill="#262626" text-anchor="middle" font-weight="normal"  stroke="#262626" stroke-width="0.05">9</text>
<text x="248.7" y="244.8" font-size="12" fill="#262626" text-anchor="middle" font-weight="normal"  stroke="#262626" stroke-width="0.05">10</text>
<text x="371.0" y="244.8" font-size="12" fill="#262626" text-anchor="middle" font-weight="normal"  stroke="#262626" stroke-width="0.05">1</text>
<text x="389.0" y="244.8" font-size="12" fill="#262626" text-anchor="middle" font-weight="normal"  stroke="#262626" stroke-width="0.05">2</text>
<text x="403.6" y="244.8" font-size="12" fill="#262626" text-anchor="middle" font-weight="normal"  stroke="#262626" stroke-width="0.05">3</text>
<text x="418.0" y="244.8" font-size="12" fill="#262626" text-anchor="middle" font-weight="normal"  stroke="#262626" stroke-width="0.05">4</text>
<text x="435.6" y="244.8" font-size="12" fill="#262626" text-anchor="middle" font-weight="normal"  stroke="#262626" stroke-width="0.05">5</text>
<text x="453.2" y="244.8" font-size="12" fill="#262626" text-anchor="middle" font-weight="normal"  stroke="#262626" stroke-width="0.05">6</text>
<text x="470.2" y="244.8" font-size="12" fill="#262626" text-anchor="middle" font-weight="normal"  stroke="#262626" stroke-width="0.05">7</text>
<text x="487.2" y="244.8" font-size="12" fill="#262626" text-anchor="middle" font-weight="normal"  stroke="#262626" stroke-width="0.05">8</text>
<text x="502.5" y="244.8" font-size="12" fill="#262626" text-anchor="middle" font-weight="normal"  stroke="#262626" stroke-width="0.05">9</text>
<text x="519.3" y="244.8" font-size="12" fill="#262626" text-anchor="middle" font-weight="normal"  stroke="#262626" stroke-width="0.05">10</text>
<text transform="translate(88.3,257.7) rotate(-90)" font-size="9.5" fill="#262626" stroke="#262626" stroke-width="0.1" textLength="26.3" lengthAdjust="spacingAndGlyphs">Before</text>
<text transform="translate(358.6,258.3) rotate(-90)" font-size="9.5" fill="#262626" stroke="#262626" stroke-width="0.1" textLength="26.5" lengthAdjust="spacingAndGlyphs">Before</text>
<text x="132.7" y="267.3" font-size="11" fill="#262626" text-anchor="start" font-weight="normal" textLength="81.8" lengthAdjust="spacingAndGlyphs"  stroke="#262626" stroke-width="0.15">Weeks of PrTMS</text>
<text x="412.8" y="267.0" font-size="11" fill="#262626" text-anchor="start" font-weight="normal" textLength="82.1" lengthAdjust="spacingAndGlyphs"  stroke="#262626" stroke-width="0.15">Weeks of PrTMS</text>
<text x="32.3" y="214.5" font-size="8.5" fill="#333" text-anchor="start" font-weight="normal" textLength="38.5" lengthAdjust="spacingAndGlyphs"  stroke="#333" stroke-width="0.1">Mean freqs:</text>
<text x="75.2" y="214.2" font-size="8.5" fill="#262626" text-anchor="start" font-weight="normal" textLength="16.0" lengthAdjust="spacingAndGlyphs"  stroke="#262626" stroke-width="0.15">9.18</text>
<text x="305.0" y="214.6" font-size="8.5" fill="#333" text-anchor="start" font-weight="normal" textLength="38.2" lengthAdjust="spacingAndGlyphs"  stroke="#333" stroke-width="0.1">Mean freqs:</text>
<text x="347.8" y="214.5" font-size="8.5" fill="#262626" text-anchor="start" font-weight="normal" textLength="11.2" lengthAdjust="spacingAndGlyphs"  stroke="#262626" stroke-width="0.15">9.4</text>
<text x="92.7" y="202.5" font-size="8.5" fill="#262626" text-anchor="start" font-weight="normal" textLength="15.7" lengthAdjust="spacingAndGlyphs"  stroke="#262626" stroke-width="0.15">9.03</text>
<text x="122.7" y="202.5" font-size="8.5" fill="#262626" text-anchor="start" font-weight="normal" textLength="15.5" lengthAdjust="spacingAndGlyphs"  stroke="#262626" stroke-width="0.15">9.12</text>
<text x="156.7" y="202.5" font-size="8.5" fill="#262626" text-anchor="start" font-weight="normal" textLength="16.0" lengthAdjust="spacingAndGlyphs"  stroke="#262626" stroke-width="0.15">9.27</text>
<text x="190.9" y="202.5" font-size="8.5" fill="#262626" text-anchor="start" font-weight="normal" textLength="15.5" lengthAdjust="spacingAndGlyphs"  stroke="#262626" stroke-width="0.15">9.14</text>
<text x="221.3" y="202.5" font-size="8.5" fill="#262626" text-anchor="start" font-weight="normal" textLength="15.6" lengthAdjust="spacingAndGlyphs"  stroke="#262626" stroke-width="0.15">9.18</text>
<text x="106.7" y="212.9" font-size="8.5" fill="#262626" text-anchor="start" font-weight="normal" textLength="15.3" lengthAdjust="spacingAndGlyphs"  stroke="#262626" stroke-width="0.15">9.02</text>
<text x="139.6" y="212.9" font-size="8.5" fill="#262626" text-anchor="start" font-weight="normal" textLength="15.3" lengthAdjust="spacingAndGlyphs"  stroke="#262626" stroke-width="0.15">9.27</text>
<text x="173.3" y="212.9" font-size="8.5" fill="#262626" text-anchor="start" font-weight="normal" textLength="15.8" lengthAdjust="spacingAndGlyphs"  stroke="#262626" stroke-width="0.15">9.26</text>
<text x="208.5" y="212.9" font-size="8.5" fill="#262626" text-anchor="start" font-weight="normal" textLength="15.7" lengthAdjust="spacingAndGlyphs"  stroke="#262626" stroke-width="0.15">9.16</text>
<text x="240.5" y="212.9" font-size="8.5" fill="#262626" text-anchor="start" font-weight="normal" textLength="15.9" lengthAdjust="spacingAndGlyphs"  stroke="#262626" stroke-width="0.15">9.19</text>
<text x="363.8" y="203.2" font-size="8.5" fill="#262626" text-anchor="start" font-weight="normal" textLength="15.2" lengthAdjust="spacingAndGlyphs"  stroke="#262626" stroke-width="0.15">9.32</text>
<text x="395.8" y="203.2" font-size="8.5" fill="#262626" text-anchor="start" font-weight="normal" textLength="15.7" lengthAdjust="spacingAndGlyphs"  stroke="#262626" stroke-width="0.15">9.34</text>
<text x="428.5" y="203.2" font-size="8.5" fill="#262626" text-anchor="start" font-weight="normal" textLength="15.7" lengthAdjust="spacingAndGlyphs"  stroke="#262626" stroke-width="0.15">9.48</text>
<text x="462.4" y="203.2" font-size="8.5" fill="#262626" text-anchor="start" font-weight="normal" textLength="15.8" lengthAdjust="spacingAndGlyphs"  stroke="#262626" stroke-width="0.15">9.36</text>
<text x="494.5" y="203.2" font-size="8.5" fill="#262626" text-anchor="start" font-weight="normal" textLength="15.5" lengthAdjust="spacingAndGlyphs"  stroke="#262626" stroke-width="0.15">9.44</text>
<text x="379.0" y="213.9" font-size="8.5" fill="#262626" text-anchor="start" font-weight="normal" textLength="15.3" lengthAdjust="spacingAndGlyphs"  stroke="#262626" stroke-width="0.15">9.31</text>
<text x="412.7" y="213.9" font-size="8.5" fill="#262626" text-anchor="start" font-weight="normal" textLength="15.8" lengthAdjust="spacingAndGlyphs"  stroke="#262626" stroke-width="0.15">9.45</text>
<text x="448.2" y="213.9" font-size="8.5" fill="#262626" text-anchor="start" font-weight="normal" textLength="16.0" lengthAdjust="spacingAndGlyphs"  stroke="#262626" stroke-width="0.15">9.55</text>
<text x="479.1" y="213.9" font-size="8.5" fill="#262626" text-anchor="start" font-weight="normal" textLength="15.4" lengthAdjust="spacingAndGlyphs"  stroke="#262626" stroke-width="0.15">9.36</text>
<text x="511.5" y="213.9" font-size="8.5" fill="#262626" text-anchor="start" font-weight="normal" textLength="15.8" lengthAdjust="spacingAndGlyphs"  stroke="#262626" stroke-width="0.15">9.25</text>
<polygon points="251.50,264.40 252.35,266.03 254.18,265.95 253.20,267.50 254.18,269.05 252.35,268.97 251.50,270.60 250.65,268.97 248.82,269.05 249.80,267.50 248.82,265.95 250.65,266.03" fill="#C00000"/>
<text x="258.2" y="270.9" font-size="9.3" fill="#262626" text-anchor="start" font-weight="normal" textLength="85.8" lengthAdjust="spacingAndGlyphs"  stroke="#262626" stroke-width="0.12">= Significant increase</text>
<path d="M248.1 286.3L257.2 286.3L252.65 274.5Z" fill="#4472C4" stroke="#1F3864" stroke-width="0.9"/>
<text x="258.5" y="284.0" font-size="9.3" fill="#262626" text-anchor="start" font-weight="normal" textLength="171.8" lengthAdjust="spacingAndGlyphs"  stroke="#262626" stroke-width="0.12">= Sig diff responders versus non responders</text>
</svg></body></html>
